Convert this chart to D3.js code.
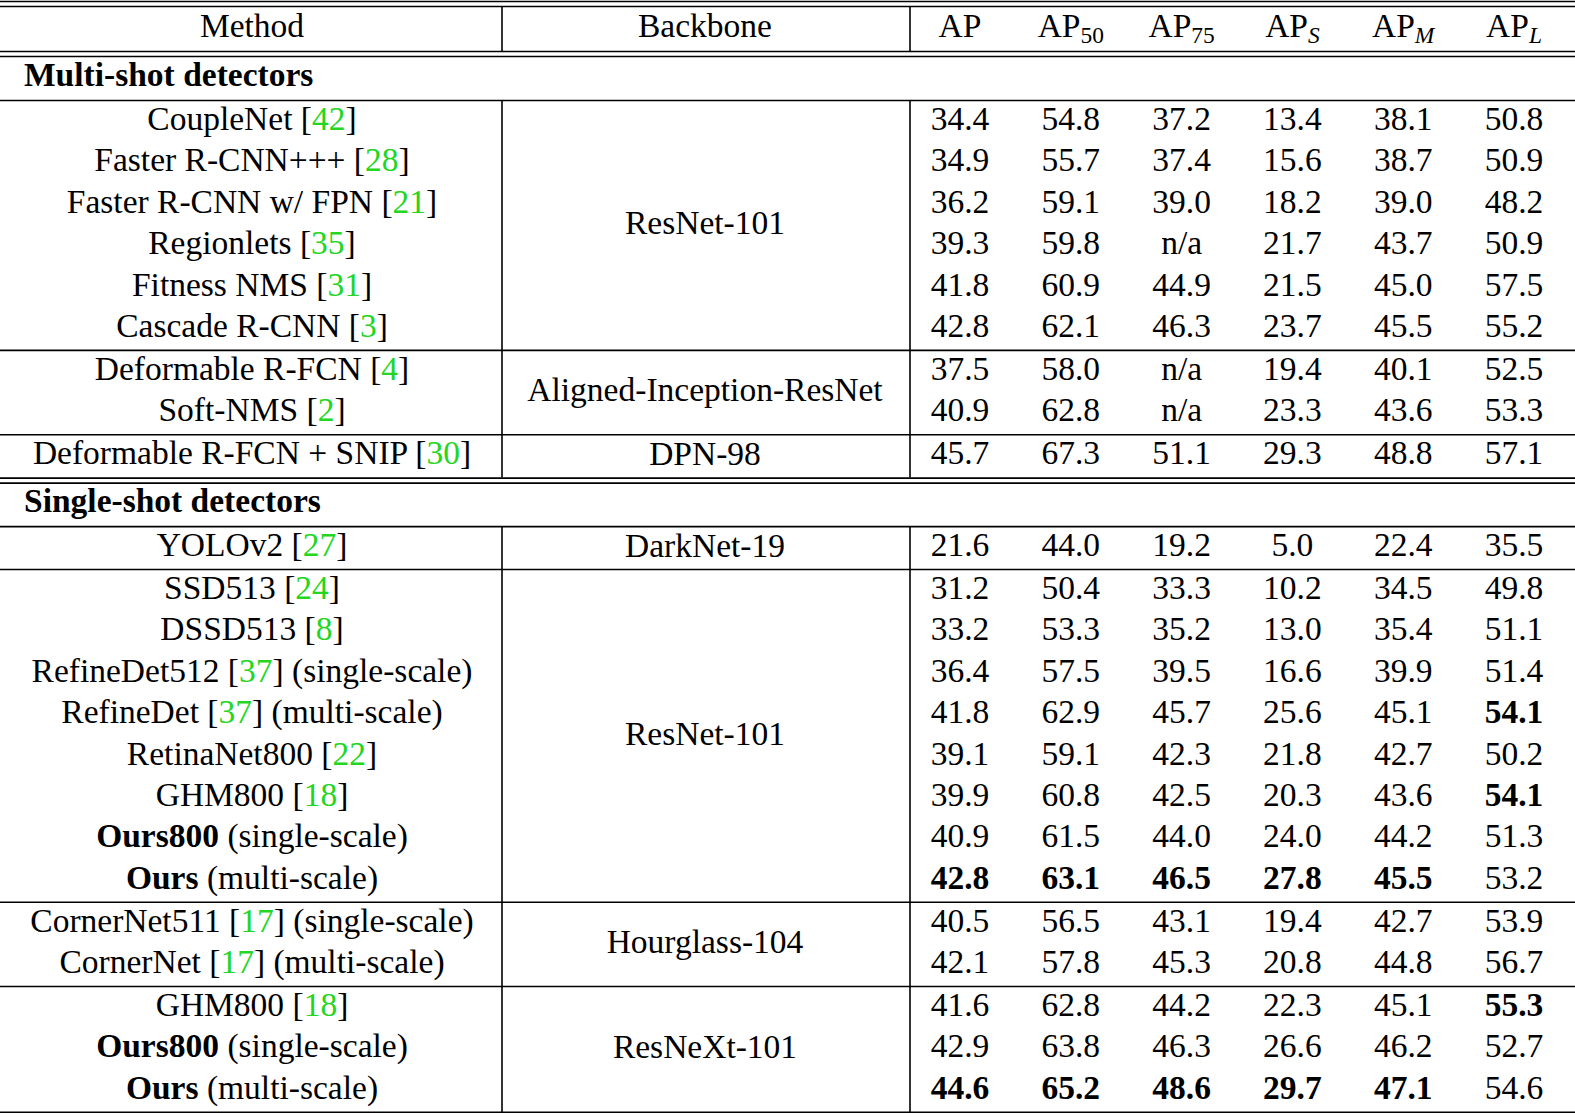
<!DOCTYPE html>
<html><head><meta charset="utf-8">
<script src="https://cdn.jsdelivr.net/npm/d3@7"></script>
<style>body{margin:0;background:#fff}</style>
</head><body><svg id="c" width="1575" height="1117"></svg>
<script>
const columns = ["AP","AP50","AP75","APS","APM","APL"];
const sections = ["Multi-shot detectors","Single-shot detectors"];
const groupSection = [0,0,0,1,1,1,1];
const groupBackbone = ["ResNet-101","Aligned-Inception-ResNet","DPN-98","DarkNet-19","ResNet-101","Hourglass-104","ResNeXt-101"];
const methodNames = [
 ["CoupleNet","Faster R-CNN+++","Faster R-CNN w/ FPN","Regionlets","Fitness NMS","Cascade R-CNN"],
 ["Deformable R-FCN","Soft-NMS"],
 ["Deformable R-FCN + SNIP"],
 ["YOLOv2"],
 ["SSD513","DSSD513","RefineDet512","RefineDet","RetinaNet800","GHM800","Ours800","Ours"],
 ["CornerNet511","CornerNet"],
 ["GHM800","Ours800","Ours"]
];
const methodRefs = [
 ["42","28","21","35","31","3"],["4","2"],["30"],["27"],
 ["24","8","37","37","22","18","",""],["17","17"],["18","",""]
];
const methodSuffix = [
 ["","","","","",""],["",""],[""],[""],
 ["","","(single-scale)","(multi-scale)","","","(single-scale)","(multi-scale)"],
 ["(single-scale)","(multi-scale)"],["","(single-scale)","(multi-scale)"]
];
const methodBold = [
 [0,0,0,0,0,0],[0,0],[0],[0],[0,0,0,0,0,0,1,1],[0,0],[0,1,1]
];
const values = [
 [["34.4","54.8","37.2","13.4","38.1","50.8"],["34.9","55.7","37.4","15.6","38.7","50.9"],["36.2","59.1","39.0","18.2","39.0","48.2"],["39.3","59.8","n/a","21.7","43.7","50.9"],["41.8","60.9","44.9","21.5","45.0","57.5"],["42.8","62.1","46.3","23.7","45.5","55.2"]],
 [["37.5","58.0","n/a","19.4","40.1","52.5"],["40.9","62.8","n/a","23.3","43.6","53.3"]],
 [["45.7","67.3","51.1","29.3","48.8","57.1"]],
 [["21.6","44.0","19.2","5.0","22.4","35.5"]],
 [["31.2","50.4","33.3","10.2","34.5","49.8"],["33.2","53.3","35.2","13.0","35.4","51.1"],["36.4","57.5","39.5","16.6","39.9","51.4"],["41.8","62.9","45.7","25.6","45.1","54.1"],["39.1","59.1","42.3","21.8","42.7","50.2"],["39.9","60.8","42.5","20.3","43.6","54.1"],["40.9","61.5","44.0","24.0","44.2","51.3"],["42.8","63.1","46.5","27.8","45.5","53.2"]],
 [["40.5","56.5","43.1","19.4","42.7","53.9"],["42.1","57.8","45.3","20.8","44.8","56.7"]],
 [["41.6","62.8","44.2","22.3","45.1","55.3"],["42.9","63.8","46.3","26.6","46.2","52.7"],["44.6","65.2","48.6","29.7","47.1","54.6"]]
];
const boldCells = [
 [],[],[],[],
 [[3,5],[5,5],[7,0],[7,1],[7,2],[7,3],[7,4]],[],
 [[0,5],[2,0],[2,1],[2,2],[2,3],[2,4]]
];

const svg = d3.select("#c");
const FS = 33.5, green = "#22d622";
const x = d3.scalePoint().domain(columns).range([960,1514]);
const xMethod = 252, xBack = 705, v1 = 502, v2 = 910, L = 0, R = 1575;
const font = "'Liberation Serif','Times New Roman',serif";
const g = svg.append("g").attr("font-family", font).attr("font-size", FS).attr("fill","#000");
function hline(y){ g.append("line").attr("x1",L).attr("x2",R).attr("y1",y).attr("y2",y).attr("stroke","#000").attr("stroke-width",1.6); }
function vline(x0,y0,y1){ g.append("line").attr("x1",x0).attr("x2",x0).attr("y1",y0).attr("y2",y1).attr("stroke","#000").attr("stroke-width",1.6); }
function txt(xx,yc,anchor){ return g.append("text").attr("x",xx).attr("y",yc+FS*0.26).attr("text-anchor",anchor||"middle"); }

hline(1.5); hline(6.5);
let y = 6.5;
const hh = 45;
const hc = y + hh/2 - 1;
txt(xMethod,hc).text("Method");
txt(xBack,hc).text("Backbone");
const subs = {AP:null,AP50:["50",false],AP75:["75",false],APS:["S",true],APM:["M",true],APL:["L",true]};
columns.forEach(c=>{
  const t = txt(x(c),hc);
  t.append("tspan").text("AP");
  if(subs[c]){ t.append("tspan").attr("font-size",FS*0.7).attr("dy",6).attr("font-style",subs[c][1]?"italic":"normal").text(subs[c][0]); }
});
vline(v1,y,y+hh); vline(v2,y,y+hh);
y += hh; hline(y); y += 5; hline(y);

const rowH = 41.4;
let curSec = -1;
groupBackbone.forEach((bb,gi)=>{
  if(groupSection[gi]!==curSec){
    if(curSec!==-1){ hline(y+0.5); y+=5; hline(y+0.5); }
    curSec = groupSection[gi];
    txt(24,y+21,"start").attr("font-weight","bold").text(sections[curSec]);
    y += 44; hline(y);
  } else { hline(y); }
  const y0 = y;
  const rows = methodNames[gi];
  const gh = rows.length*rowH + 1.5;
  rows.forEach((m,ri)=>{
    const yc = y0 + rowH*ri + rowH/2;
    const t = txt(xMethod,yc);
    t.append("tspan").attr("font-weight",methodBold[gi][ri]?"bold":"normal").text(m);
    if(methodRefs[gi][ri]){
      t.append("tspan").text(" [");
      t.append("tspan").attr("fill",green).text(methodRefs[gi][ri]);
      t.append("tspan").text("]");
    }
    if(methodSuffix[gi][ri]) t.append("tspan").text(" "+methodSuffix[gi][ri]);
    values[gi][ri].forEach((v,ci)=>{
      const b = boldCells[gi].some(p=>p[0]===ri&&p[1]===ci);
      txt(x(columns[ci]),yc).attr("font-weight",b?"bold":"normal").text(v);
    });
  });
  txt(xBack,y0+gh/2).text(bb);
  vline(v1,y0,y0+gh); vline(v2,y0,y0+gh);
  y = y0 + gh;
});
hline(y);
</script></body></html>
